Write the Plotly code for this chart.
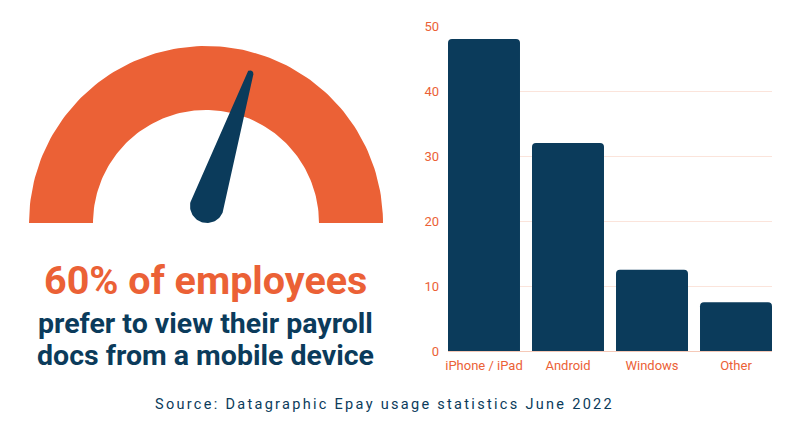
import math
import plotly.graph_objects as go

# ---- data ----
categories = ["iPhone / iPad", "Android", "Windows", "Other"]
values = [48, 32, 12.5, 7.5]
y_ticks = [0, 10, 20, 30, 40, 50]
gauge_value = 60  # percent
headline = "60% of employees"
subline1 = "prefer to view their payroll"
subline2 = "docs from a mobile device"
source = "Source: Datagraphic Epay usage statistics June 2022"

ORANGE = "#EB6136"
NAVY = "#0B3B5B"
W, H = 797, 435

fig = go.Figure()

# ---- bar chart ----
fig.add_trace(go.Bar(
    x=categories, y=values, marker=dict(color=NAVY, line=dict(width=0)),
    xaxis="x", yaxis="y", hoverinfo="x+y", showlegend=False,
))

# ---- gauge (pixel-like coordinate system on x2/y2) ----
cx, cy = 206, 223
R_out, R_in = 177, 113
n = 120
outer = [math.pi - math.pi * i / n for i in range(n + 1)]
gx = [cx + R_out * math.cos(a) for a in outer] + [cx + R_in * math.cos(a) for a in reversed(outer)]
gy = [cy - R_out * math.sin(a) for a in outer] + [cy - R_in * math.sin(a) for a in reversed(outer)]
gx.append(gx[0]); gy.append(gy[0])
fig.add_trace(go.Scatter(x=gx, y=gy, mode="lines", fill="toself", fillcolor=ORANGE,
                         line=dict(width=0, color=ORANGE), xaxis="x2", yaxis="y2",
                         hoverinfo="skip", showlegend=False))

# needle derived from gauge value
theta = math.pi * (1 - gauge_value / 100.0)
px, py = 207, 206
L = 139
r1, r2 = 17, 3.5
dxu, dyu = math.cos(theta), -math.sin(theta)
tx, ty = px + L * dxu, py + L * dyu
alpha = math.asin((r1 - r2) / L)
base_ang = math.atan2(dyu, dxu)
nx, ny = [], []
m = 40
a0 = base_ang + (math.pi / 2 + alpha)
a1 = base_ang + (3 * math.pi / 2 - alpha)
for i in range(m + 1):
    a = a0 + (a1 - a0) * i / m
    nx.append(px + r1 * math.cos(a)); ny.append(py + r1 * math.sin(a))
b0 = base_ang - (math.pi / 2 + alpha)
b1 = base_ang + (math.pi / 2 + alpha)
for i in range(m + 1):
    a = b0 + (b1 - b0) * i / m
    nx.append(tx + r2 * math.cos(a)); ny.append(ty + r2 * math.sin(a))
nx.append(nx[0]); ny.append(ny[0])
fig.add_trace(go.Scatter(x=nx, y=ny, mode="lines", fill="toself", fillcolor=NAVY,
                         line=dict(width=0, color=NAVY), xaxis="x2", yaxis="y2",
                         hoverinfo="skip", showlegend=False))


def py2paper(yp):
    return (H - yp) / H


annotations = [
    dict(text=headline, x=205 / W, y=py2paper(280.5), xref="paper", yref="paper",
         xanchor="center", yanchor="middle", showarrow=False,
         font=dict(family="Roboto", size=39.5, color=ORANGE, weight=700)),
    dict(text=subline1, x=205 / W, y=py2paper(323.7), xref="paper", yref="paper",
         xanchor="center", yanchor="middle", showarrow=False,
         font=dict(family="Roboto", size=28.5, color=NAVY, weight=700)),
    dict(text=subline2, x=205 / W, y=py2paper(355), xref="paper", yref="paper",
         xanchor="center", yanchor="middle", showarrow=False,
         font=dict(family="Roboto", size=28.5, color=NAVY, weight=700)),
    dict(text='<span style="letter-spacing:2.3px">' + source + '</span>',
         x=384 / W, y=py2paper(404), xref="paper", yref="paper",
         xanchor="center", yanchor="middle", showarrow=False,
         font=dict(family="Roboto", size=14.5, color=NAVY)),
]

fig.update_layout(
    width=W, height=H, margin=dict(l=0, r=0, t=0, b=0, autoexpand=False),
    paper_bgcolor="white", plot_bgcolor="white",
    bargap=0.143, barcornerradius=4,
    font=dict(family="Roboto"),
    xaxis=dict(domain=[448 / W, 772 / W], range=[-0.4285, 3.4285], showgrid=False,
               showline=False, zeroline=False, ticks="", automargin=False,
               ticklabelstandoff=5,
               tickfont=dict(family="Roboto", size=13, color=ORANGE), fixedrange=True),
    yaxis=dict(domain=[py2paper(351), py2paper(26)], range=[0, 50], tickvals=y_ticks,
               showgrid=True, gridcolor="#FBE4DB", gridwidth=1, zeroline=True,
               zerolinecolor="#F5C9B8", zerolinewidth=1, showline=False, ticks="",
               ticklabelstandoff=8, automargin=False,
               tickfont=dict(family="Roboto", size=13, color=ORANGE), fixedrange=True),
    xaxis2=dict(domain=[0, 400 / W], range=[0, 400], visible=False, fixedrange=True,
                automargin=False),
    yaxis2=dict(domain=[0, 1], range=[H, 0], visible=False, fixedrange=True,
                automargin=False),
    annotations=annotations,
)

fig.write_html("out.html")
